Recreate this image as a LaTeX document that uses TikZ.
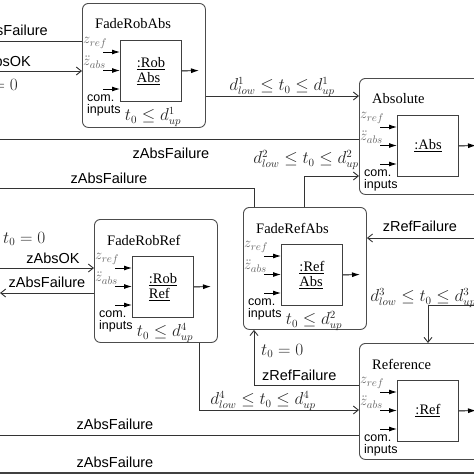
\documentclass[tikz,border=0pt]{standalone}
\usepackage[no-math]{fontspec}
\setmainfont{Liberation Serif}
\setsansfont{Liberation Sans}
\usetikzlibrary{arrows.meta,calc}
\tikzset{
  outer/.style={draw=black!70, line width=0.9pt, rounded corners=6pt, minimum width=123pt, inner sep=0, anchor=north west},
  innerbox/.style={draw=black!75, line width=0.9pt, minimum width=61pt, minimum height=61pt, inner sep=0, anchor=north west, font=\fontsize{14.5}{14.5}\selectfont, align=left},
  inarr/.style={-{Latex[length=8pt,width=5pt]}, line width=0.9pt},
  conn/.style={line width=0.9pt, draw=black!80},
  oarr/.style={conn, -{Straight Barb[length=5pt,width=8pt]}},
  lbl/.style={font=\sffamily\fontsize{14.5}{15}\selectfont, inner sep=0},
  mlbl/.style={font=\fontsize{16}{17}\selectfont, inner sep=0, text=black!85},
  ttl/.style={font=\fontsize{14.5}{15}\selectfont, inner sep=0, anchor=west},
  smalltxt/.style={font=\sffamily\fontsize{12.5}{13}\selectfont, inner sep=0, anchor=west},
  port/.style={font=\fontsize{15}{15}\selectfont, inner sep=0, anchor=west, text=black!60},
}
% #1 name, #2 x, #3 y, #4 height, #5 title, #6 inner text
\newcommand\mycomp[6]{%
  \node[outer, minimum height=#4pt] (#1) at (#2,#3) {};
  \node[innerbox] (#1i) at ($(#1.north west)+(38,37)$) {#6};
  \node[ttl] (#1t) at ($(#1.north west)+(13,21)$) {#5};
  \coordinate (#1p1) at ($(#1.north west)+(21,49)$);
  \coordinate (#1p2) at ($(#1.north west)+(21,67.5)$);
  \coordinate (#1p3) at ($(#1.north west)+(21,86)$);
  \draw[inarr] (#1p1) -- (#1p1 -| #1i.west);
  \draw[inarr] (#1p2) -- (#1p2 -| #1i.west);
  \draw[inarr] (#1p3) -- (#1p3 -| #1i.west);
  \node[port] (#1zr) at ($(#1.north west)+(1,40)$) {$z_{ref}$};
  \node[port] (#1za) at ($(#1.north west)+(1,59)$) {$\ddot z_{abs}$};
  \node[smalltxt] (#1c) at ($(#1.north west)+(5,95)$) {com.};
  \node[smalltxt] (#1n) at ($(#1.north west)+(5,107)$) {inputs};
  \coordinate (#1o) at ($(#1.north west)+(117,67.5)$);
  \draw[inarr] (#1i.east) -- (#1o);
}
\begin{document}
\begin{tikzpicture}[x=1pt,y=-1pt]
\useasboundingbox (0,0) rectangle (474,474);

\mycomp{fra}{82}{3}{124}{FadeRobAbs}{\underline{:Rob}\\\underline{Abs}}
\mycomp{abs}{359}{78}{116}{Absolute}{\underline{:Abs}}
\mycomp{fra2}{243}{207}{122}{FadeRefAbs}{\underline{:Ref}\\\underline{Abs}}
\mycomp{frr}{94}{219}{123}{FadeRobRef}{\underline{:Rob}\\\underline{Ref}}
\mycomp{ref}{359}{343}{116}{Reference}{\underline{:Ref}}

\node[mlbl] (b1) at ($(fra.north west)+(71,114)$) {$t_0\le d^1_{up}$};
\node[mlbl] (b2) at ($(fra2.north west)+(71,114)$) {$t_0\le d^2_{up}$};
\node[mlbl] (b4) at ($(frr.north west)+(71,114)$) {$t_0\le d^4_{up}$};

% coordinates
\coordinate (e1) at (0,41);
\coordinate (e2) at (0,71);
\coordinate (y96) at (0,96);
\coordinate (e4) at (0,139);
\coordinate (k2) at (304,176);
\coordinate (e5) at (0,188);
\coordinate (k3) at (254,188);
\coordinate (e6) at (480,238);
\coordinate (e7) at (480,305);
\coordinate (k4) at (428,305);
\coordinate (k5) at (254,385);
\coordinate (k6) at (199,410);
\coordinate (e8) at (0,435);
\coordinate (e9) at (-5,473);
\coordinate (e10) at (480,473);
\coordinate (e11) at (0,268);
\coordinate (e12) at (0,293);

% connectors
\draw[conn] (fra.west |- e1) -- (e1);
\draw[oarr] (e2) -- (e2 -| fra.west);
\draw[oarr] (fra.east |- y96) -- (abs.west |- y96);
\draw[conn] (e4) -- (e4 -| abs.west);
\draw[oarr] (fra2.north -| k2) -- (k2) -- (k2 -| abs.west);
\draw[conn] (e5) -- (k3) -- (k3 |- fra2.north);
\draw[oarr] (e6) -- (e6 -| fra2.east);
\draw[oarr] (e7) -- (k4) -- (k4 |- ref.north);
\draw[oarr] (k5 -| ref.west) -- (k5) -- (k5 |- fra2.south);
\draw[oarr] (frr.south -| k6) -- (k6) -- (k6 -| ref.west);
\draw[conn] (e8) -- (e8 -| ref.west);
\draw[line width=3pt, draw=black!75] (e9) -- (e10);
\draw[oarr] (e11) -- (e11 -| frr.west);
\draw[oarr] (e12 -| frr.west) -- (e12);

% labels
\node[lbl, anchor=east] (l1) at (48,30) {zAbsFailure};
\node[lbl, anchor=east] (l2) at (31,61) {zAbsOK};
\node[mlbl, anchor=east] (l3) at (18,86) {$t_0=0$};
\node[mlbl] (l4) at (282,87) {$d^1_{low}\le t_0\le d^1_{up}$};
\node[lbl] (l5) at (171,153) {zAbsFailure};
\node[mlbl] (l6) at (306,160) {$d^2_{low}\le t_0\le d^2_{up}$};
\node[lbl] (l7) at (109,178) {zAbsFailure};
\node[lbl] (l8) at (420,226) {zRefFailure};
\node[mlbl] (l9) at (423,298) {$d^3_{low}\le t_0\le d^3_{up}$};
\node[mlbl, anchor=west] (l10) at (261,351) {$t_0=0$};
\node[lbl, anchor=west] (l11) at (262,375) {zRefFailure};
\node[mlbl] (l12) at (263,401) {$d^4_{low}\le t_0\le d^4_{up}$};
\node[lbl] (l13) at (115,424) {zAbsFailure};
\node[lbl] (l14) at (115,462) {zAbsFailure};
\node[lbl] (l15) at (53,258) {zAbsOK};
\node[mlbl, anchor=west] (l16) at (3,239) {$t_0=0$};
\node[lbl] (l17) at (47,282) {zAbsFailure};
\end{tikzpicture}
\end{document}
